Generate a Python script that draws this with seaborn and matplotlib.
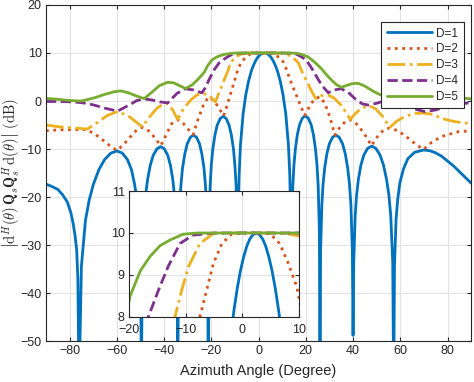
import matplotlib
matplotlib.use("Agg")
import matplotlib.pyplot as plt
import seaborn as sns

# beam pattern values: (azimuth angle in degrees, gain in dB)
points_d1 = [(-90, -17.3), (-87.5, -17.8), (-85, -18.4), (-83, -19.5), (-81, -21.0), (-79.5, -23.2),
             (-78.5, -25.5), (-77.7, -28.0), (-77, -31.0), (-76.5, -37.0), (-76, -60),
             (-75.0, -34.4), (-73.3, -24.9), (-71.7, -20.6), (-69.9, -17.3), (-67.6, -14.3), (-65.2, -12.2),
             (-62.5, -10.84), (-60.0, -10.4), (-57.7, -10.84), (-55.5, -12.2), (-53.8, -14.3), (-52.5, -17.3),
             (-51.5, -20.6), (-50.7, -24.9), (-49.95, -34.4), (-49.6, -60),
             (-49.25, -33.5), (-48.55, -24.0), (-47.86, -19.7), (-47.0, -16.4), (-45.86, -13.4), (-44.6, -11.3),
             (-42.98, -9.94), (-41.44, -9.5), (-39.93, -9.94), (-38.45, -11.3), (-37.3, -13.4), (-36.3, -16.4),
             (-35.6, -19.7), (-35.0, -24.0), (-34.5, -33.5), (-34.2, -60),
             (-33.9, -31.1), (-33.4, -21.6), (-32.83, -17.3), (-32.2, -14.0), (-31.22, -11.0), (-30.2, -8.9),
             (-28.85, -7.54), (-27.6, -7.1), (-26.28, -7.54), (-25.0, -8.9), (-24.02, -11.0), (-23.1, -14.0),
             (-22.53, -17.3), (-22.0, -21.6), (-21.55, -31.1), (-21.3, -60),
             (-21.0, -27.2), (-20.5, -17.7), (-20.02, -13.4), (-19.4, -10.1), (-18.48, -7.1), (-17.5, -5.0),
             (-16.21, -3.64), (-15.0, -3.2), (-13.72, -3.64), (-12.5, -5.0), (-11.5, -7.1), (-10.6, -10.1),
             (-10.02, -13.4), (-9.5, -17.7), (-9.0, -27.2), (-8.8, -44),
             (-8.58, -23.8), (-8.23, -15.6), (-7.67, -9.2), (-6.53, -2.6), (-5.41, 1.3), (-4.28, 4.06),
             (-3.16, 6.08), (-2.6, 6.89), (-2.03, 7.58), (-1.47, 8.17), (-0.91, 8.67), (-0.35, 9.09),
             (0.21, 9.42), (0.77, 9.68), (1.33, 9.86), (1.89, 9.96), (2.45, 10.0), (3.02, 9.96),
             (3.58, 9.86), (4.14, 9.68), (4.7, 9.42), (5.26, 9.09), (5.83, 8.67), (6.39, 8.17),
             (6.96, 7.58), (7.52, 6.89), (8.09, 6.08), (9.22, 4.06), (10.36, 1.3), (11.5, -2.6),
             (12.65, -9.2), (13.23, -15.6), (13.57, -23.8), (13.8, -44),
             (14.03, -27.1), (14.51, -17.6), (14.98, -13.3), (15.58, -10.0), (16.41, -7.0), (17.37, -4.9),
             (18.57, -3.54), (19.79, -3.1), (21.0, -3.54), (22.24, -4.9), (23.23, -7.0), (24.1, -10.0),
             (24.73, -13.3), (25.24, -17.6), (25.75, -27.1), (26.0, -60),
             (26.26, -31.1), (26.79, -21.6), (27.31, -17.3), (27.98, -14.0), (28.91, -11.0), (29.98, -8.9),
             (31.34, -7.54), (32.72, -7.1), (34.12, -7.54), (35.56, -8.9), (36.71, -11.0), (37.74, -14.0),
             (38.49, -17.3), (39.09, -21.6), (39.7, -31.1), (40.0, -48.8),
             (40.3, -33.4), (40.9, -23.9), (41.5, -19.6), (42.26, -16.3), (43.34, -13.3), (44.6, -11.2),
             (46.21, -9.84), (47.87, -9.4), (49.6, -9.84), (51.38, -11.2), (52.85, -13.3), (54.18, -16.3),
             (55.17, -19.6), (55.96, -23.9), (56.79, -33.4), (57.2, -60),
             (57.55, -34.2), (58.2, -24.7), (58.9, -20.5), (59.8, -17.1), (61.3, -14.2), (63.2, -12.0),
             (66.0, -10.7), (69.8, -10.2), (72.5, -10.35), (75, -10.8), (77.5, -11.5), (80, -12.5),
             (82.5, -13.5), (85, -14.7), (87.5, -15.9), (90, -17.1)]

points_d2 = [(-90, -6.2), (-84, -6.0), (-78, -5.95), (-73, -5.95), (-69.5, -6.8), (-66.5, -7.9), (-63, -9.3),
             (-60, -10.3), (-57, -9.0), (-54, -7.3), (-51.5, -6.0), (-49.2, -5.5), (-46.5, -6.2), (-44, -7.6),
             (-41.4, -9.3), (-39, -6.9), (-36.8, -4.7), (-34.3, -3.9), (-32, -4.6), (-29.8, -5.9), (-27.7, -7.0),
             (-25.5, -3.6), (-23.3, -0.8), (-21.3, 0.8), (-19.8, 0.45), (-18.3, -0.3), (-16.5, -1.7),
             (-14.8, -3.1), (-13.5, -1.2), (-12.4, 0.6), (-10.3, 4.0), (-9, 6.2), (-7.5, 8.0), (-6.3, 8.64),
             (-5.1, 9.28), (-3.6, 9.75), (-1.9, 9.97), (0, 10.0), (2.5, 10.0), (4.9, 9.98), (6.6, 9.75),
             (8.1, 9.28), (9.6, 8.72), (10.5, 8.1), (12, 6.4), (13.1, 4.7), (15.9, 1.3), (18, -1.2),
             (19.5, -3.0), (21.5, -1.2), (23.3, 0.2), (25.8, 0.9), (28, -0.4), (30.3, -3.5), (32.3, -7.1),
             (34.5, -5.4), (36.7, -4.3), (38.8, -3.9), (41.5, -4.8), (44.5, -6.6), (47.8, -9.3), (50.5, -7.3),
             (53, -6.0), (55.5, -5.6), (59, -6.2), (63, -7.6), (66.5, -9.0), (69.8, -10.1), (73, -8.7),
             (77.4, -7.4), (84.5, -6.4), (90, -6.2)]

points_d3 = [(-90, -5.0), (-84, -5.4), (-78, -5.6), (-72.5, -5.85), (-68, -4.4), (-64, -3.0), (-59.7, -2.2),
             (-55.5, -3.0), (-52, -4.3), (-49.2, -5.4), (-46, -3.2), (-43, -1.5), (-40.5, -0.7), (-38.5, -0.5),
             (-36.3, -1.9), (-34.3, -3.8), (-31.5, -1.4), (-28.5, 0.3), (-26, 1.3), (-23.7, 1.6), (-21, 1.2),
             (-18.3, -0.2), (-16.5, 2.0), (-14.5, 4.5), (-13, 6.2), (-11.9, 8.0), (-10.7, 8.64), (-9.5, 9.2),
             (-7.5, 9.75), (-5.1, 9.99), (0, 10.0), (5, 10.0), (8, 9.98), (10, 9.93), (12, 9.75), (14, 9.2),
             (15.5, 8.6), (16.8, 8.0), (18.3, 6.2), (20.5, 4.0), (22.5, 2.0), (24.2, 0.5), (26.5, 1.1),
             (29.3, 1.3), (32, 0.6), (35, -0.9), (37, -2.4), (38.8, -3.8), (41, -2.6), (43.5, -1.5),
             (46.5, -0.95), (49.5, -1.6), (52.5, -3.2), (55.5, -5.5), (58.5, -4.2), (62, -3.2), (66, -2.6),
             (69.5, -2.5), (74, -2.8), (77.4, -3.6), (82, -4.2), (86, -4.5), (90, -4.7)]

points_d4 = [(-90, -0.1), (-84, -0.1), (-78, -0.2), (-74, -0.4), (-70, -0.8), (-65, -1.5), (-59.7, -2.1),
             (-55, -0.9), (-51.5, 0.1), (-48.4, 0.45), (-45, 0.2), (-41.5, -0.2), (-38.5, -0.4), (-36.5, 0.6),
             (-34.5, 1.6), (-31, 2.55), (-27.5, 2.3), (-24, 1.7), (-22.5, 2.8), (-21, 4.4), (-18.8, 6.5),
             (-16.6, 8.0), (-14.8, 8.64), (-13.1, 9.2), (-11, 9.75), (-8.7, 9.95), (-5, 10.0), (0, 10.0),
             (5, 10.0), (10, 10.0), (13.7, 9.95), (16, 9.75), (18.2, 9.2), (20.2, 8.5), (22, 7.2), (23.7, 5.8),
             (25.5, 4.3), (27.2, 3.0), (29.5, 1.75), (32, 2.3), (35, 2.55), (38, 1.8), (41.4, 0.2), (44, -0.6),
             (46.5, -0.85), (50.6, -0.4), (53.5, 0.1), (56.2, 0.25), (60, -0.3), (64, -1.2), (67, -1.8),
             (70.5, -2.2), (74.5, -1.9), (79, -1.3), (83, -0.8), (87, -0.5), (90, -0.35)]

points_d5 = [(-90, 0.55), (-86, 0.4), (-82, 0.2), (-78, 0.05), (-75, 0.0), (-70, 0.6), (-65, 1.4), (-61, 1.95),
             (-58.3, 2.1), (-55, 1.7), (-52, 1.1), (-48.4, 0.5), (-45, 1.9), (-42, 3.2), (-38.5, 3.9), (-36, 3.8),
             (-33.5, 3.2), (-30.8, 2.6), (-28, 3.4), (-25.5, 4.6), (-23, 6.0), (-21.5, 7.4), (-19.8, 8.5),
             (-18, 9.1), (-16.3, 9.44), (-14.5, 9.7), (-12.8, 9.83), (-10.5, 9.97), (-8, 10.0), (0, 10.0),
             (12, 10.0), (15, 9.97), (16.6, 9.9), (18.5, 9.65), (20.9, 9.2), (23.5, 8.2), (26.5, 6.8),
             (28.5, 5.6), (30.8, 4.4), (33, 3.4), (35, 2.85), (37, 3.2), (39.5, 3.6), (42.1, 3.7), (45, 3.1),
             (49, 1.9), (52, 1.2), (55, 0.5), (58, 1.2), (63, 1.9), (68, 2.1), (73, 1.8), (79, 1.2), (84, 0.7),
             (90, 0.45)]

labels = ["D=1", "D=2", "D=3", "D=4", "D=5"]
colors = ["#0072BD", "#D95319", "#EDB120", "#7E2F8E", "#77AC30"]
styles = ["-", ":", "-.", "--", "-"]

sns.set_style("whitegrid", {
    "axes.edgecolor": "#262626",
    "grid.color": "#e3e3e3",
    "xtick.bottom": True, "ytick.left": True,
    "xtick.top": True, "ytick.right": True,
    "xtick.direction": "in", "ytick.direction": "in",
})
plt.rcParams["font.family"] = ["Liberation Sans", "DejaVu Sans"]
plt.rcParams["mathtext.fontset"] = "cm"
plt.rcParams["xtick.color"] = "#262626"
plt.rcParams["ytick.color"] = "#262626"
plt.rcParams["xtick.major.size"] = 3
plt.rcParams["ytick.major.size"] = 3

curves = [points_d1, points_d2, points_d3, points_d4, points_d5]


def draw_curves(ax, with_labels):
    for pts, lab, col, ls in zip(curves, labels, colors, styles):
        xs = [p[0] for p in pts]
        ys = [p[1] for p in pts]
        sns.lineplot(x=xs, y=ys, ax=ax, color=col, linestyle=ls, linewidth=2.0,
                     label=lab if with_labels else None, legend=with_labels, sort=False)


fig = plt.figure(figsize=(4.74, 3.82), dpi=100)
ax = fig.add_axes([0.097, 0.107, 0.897, 0.880])
draw_curves(ax, True)
ax.set_xlim(-90, 90)
ax.set_ylim(-50, 20)
ax.set_xticks(range(-80, 81, 20))
ax.set_yticks(range(-50, 21, 10))
ax.tick_params(labelsize=9, pad=3)
ax.set_xlabel("Azimuth Angle (Degree)", fontsize=10.5, labelpad=5)
ax.set_ylabel(r"$\left|\mathrm{d}^H(\theta)\,\mathbf{Q}_s\mathbf{Q}_s^H\,\mathrm{d}(\theta)\right|\ \mathrm{(dB)}$",
              fontsize=10.5)
ax.yaxis.set_label_coords(-0.056, 0.5)
leg = ax.legend(loc="upper right", bbox_to_anchor=(0.996, 0.966), fontsize=8.5, handlelength=3.8,
                labelspacing=0.32, borderpad=0.45, handletextpad=0.4, fancybox=False,
                edgecolor="#262626", framealpha=1)
leg.get_frame().set_linewidth(0.8)

# zoomed inset around the flat top
ins = fig.add_axes([0.2722, 0.1702, 0.3586, 0.3298])
draw_curves(ins, False)
ins.set_xlim(-20, 10)
ins.set_ylim(8, 11)
ins.set_xticks([-20, -10, 0, 10])
ins.set_yticks([8, 9, 10, 11])
ins.tick_params(axis="x", labelsize=9, pad=5)
ins.tick_params(axis="y", labelsize=9, pad=3)
ins.set_facecolor("white")
ins.set_xlabel("")
ins.set_ylabel("")

fig.savefig("out.png", dpi=100)
